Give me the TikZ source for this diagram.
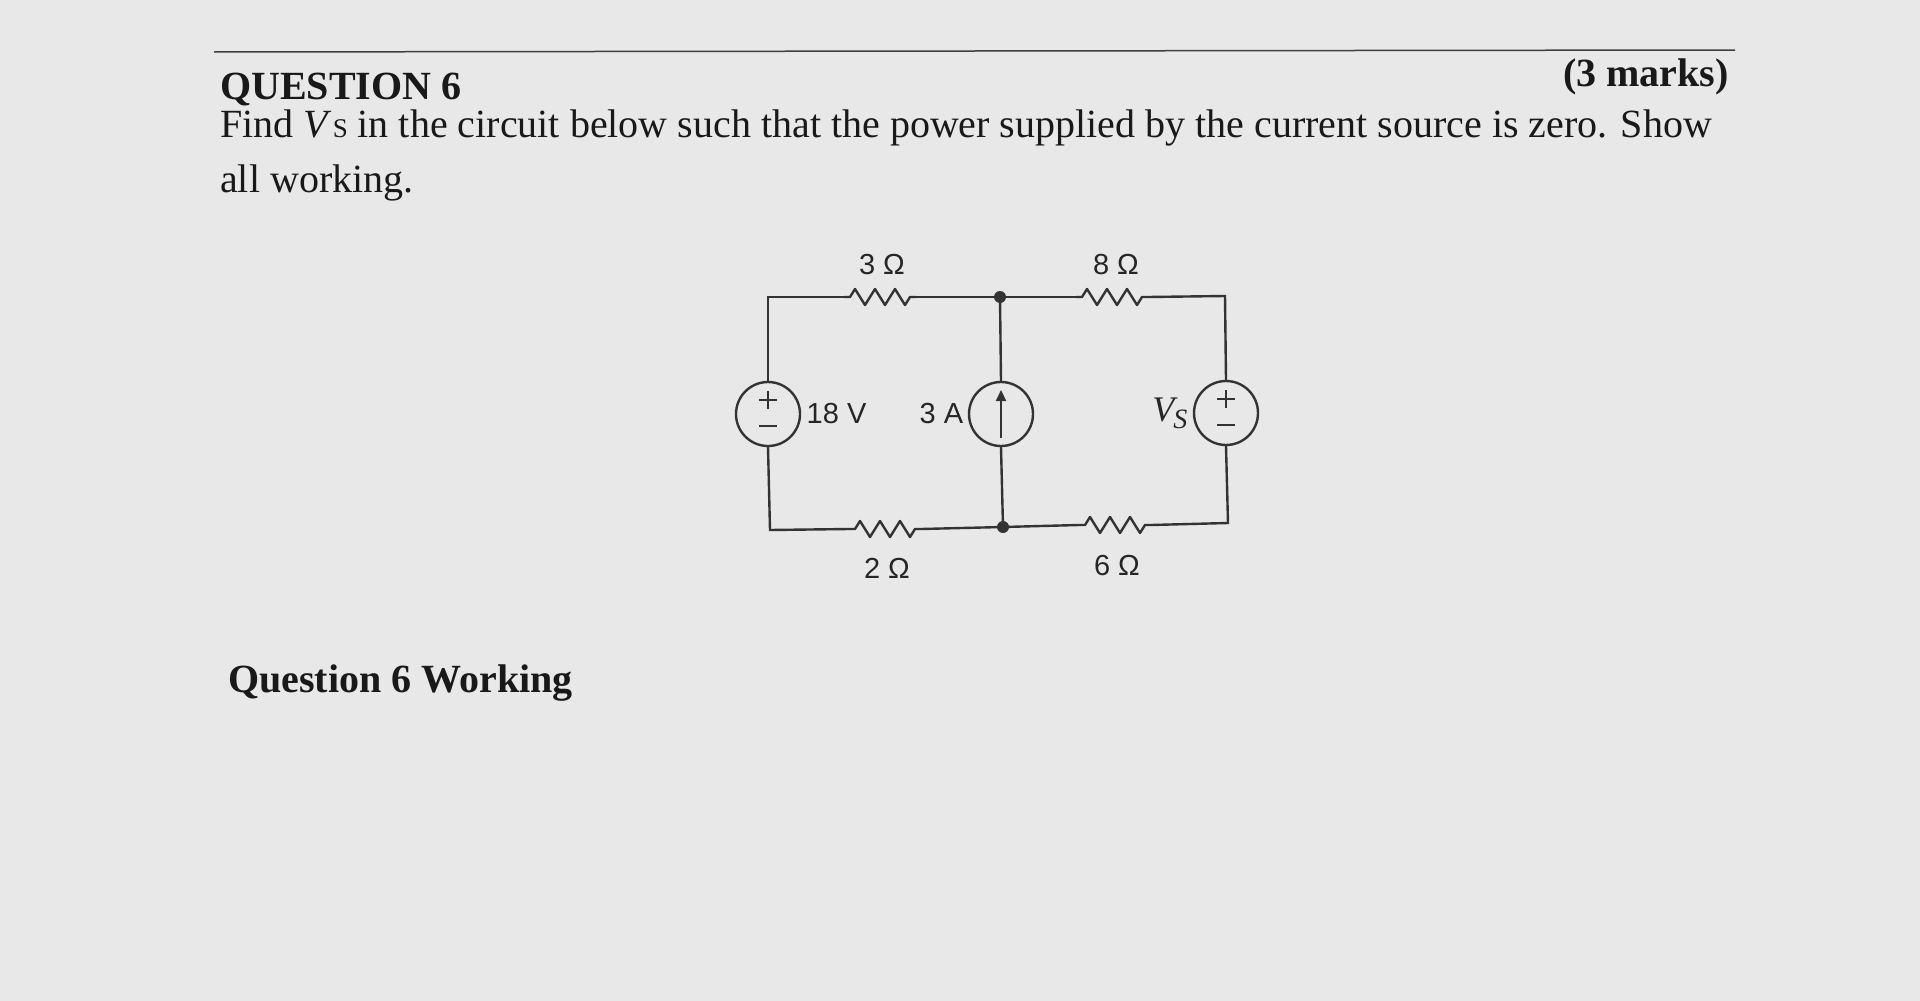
\documentclass[tikz,border=0pt]{standalone}
\usepackage{fontspec}
\setmainfont{Liberation Serif}
\setsansfont{Liberation Sans}
\usetikzlibrary{positioning,arrows.meta,calc}
\tikzset{
  wire/.style={line width=2.4pt,draw=black!80},
  src/.style={circle,draw=black!80,line width=2.4pt,minimum size=64pt,inner sep=0pt,fill=none},
  lbl/.style={font=\sffamily\fontsize{29}{32}\selectfont,text=black!85},
  qtext/.style={font=\fontsize{40}{46}\selectfont,text=black!90,anchor=base west,inner sep=0pt}
}
% zigzag resistor centred at a coordinate
\newcommand{\zigres}[1]{\draw[wire,line join=round] ($(#1)+(-36,0)$) -- ++(6,0) -- ++(5,-8) -- ++(10,16) -- ++(10,-16) -- ++(10,16) -- ++(10,-16) -- ++(10,16) -- ++(5,-8) -- ++(6,0);}
\begin{document}
\begin{tikzpicture}[x=1pt,y=-1pt]

  \fill[black!9] (0,0) rectangle (1920,1001);
  \useasboundingbox (0,0) rectangle (1920,1001);

  % heading
  \draw[line width=1.5pt,black!75] (214,52) -- (1735,50);
  \node[qtext,font=\bfseries\fontsize{40}{46}\selectfont] (qhead) at (220,99) {QUESTION 6};
  \node[qtext,anchor=base east,font=\bfseries\fontsize{40}{46}\selectfont] (marks) at (1729,86) {(3 marks)};
  \node[qtext] (task) at (220,137) {Find \textit{V}\kern1pt{\fontsize{27}{30}\selectfont S} in the circuit below such that the power supplied by the current source is zero. Show};
  \node[qtext] (task2) at (220,192) {all working.};
  \node[qtext,font=\bfseries\fontsize{40}{46}\selectfont] (work) at (228,692) {Question 6 Working};

  % circuit corners
  \coordinate (tl) at (768,297);
  \coordinate (tm) at (1000,297);
  \coordinate (tr) at (1225,296);
  \coordinate (bl) at (770,530);
  \coordinate (bm) at (1003,527);
  \coordinate (br) at (1228,523);
  \coordinate (r3) at (880,297);
  \coordinate (r8) at (1112,297);
  \coordinate (r2) at (885,529);
  \coordinate (r6) at (1115,525);

  \node[src] (v18) at (768,414) {};
  \node[src] (ia) at (1001,414) {};
  \node[src] (vs) at (1226,413) {};

  \draw[wire] (v18.north) -- (tl) -- ($(r3)+(-36,0)$);
  \draw[wire] ($(r3)+(36,0)$) -- (tm) -- ($(r8)+(-36,0)$);
  \draw[wire] ($(r8)+(36,0)$) -- (tr) -- (vs.north);
  \draw[wire] (v18.south) -- (bl) -- ($(r2)+(-36,0)$);
  \draw[wire] ($(r2)+(36,0)$) -- (bm) -- ($(r6)+(-36,0)$);
  \draw[wire] ($(r6)+(36,0)$) -- (br) -- (vs.south);
  \draw[wire] (tm) -- (ia.north);
  \draw[wire] (ia.south) -- (bm);
  \zigres{r3} \zigres{r8} \zigres{r2} \zigres{r6}

  \fill[black!80] (tm) circle (6);
  \fill[black!80] (bm) circle (6);

  % source marks
  \draw[line width=1.6pt,black!80] ($(v18)+(-9,-14)$) -- ++(18,0) ($(v18)+(0,-23)$) -- ++(0,18) ($(v18)+(-9,12)$) -- ++(18,0);
  \draw[line width=1.6pt,black!80] ($(vs)+(-9,-14)$) -- ++(18,0) ($(vs)+(0,-23)$) -- ++(0,18) ($(vs)+(-9,12)$) -- ++(18,0);
  \draw[line width=2.2pt,black!80,-{Triangle[length=11pt,width=10pt]}] ($(ia)+(0,24)$) -- ($(ia)+(0,-24)$);

  % labels
  \node[lbl] (l3) at (882,265) {3 Ω};
  \node[lbl] (l8) at (1116,265) {8 Ω};
  \node[lbl] (l2) at (887,568) {2 Ω};
  \node[lbl] (l6) at (1117,566) {6 Ω};
  \node[lbl,right=2pt of v18] (l18) {18 V};
  \node[lbl,left=1pt of ia] (l3a) {3 A};
  \node[lbl,left=2pt of vs,font=\fontsize{36}{40}\selectfont\itshape] (lvs) {V\kern-1pt\raisebox{-7pt}{\fontsize{28}{30}\selectfont S}};

\end{tikzpicture}
\end{document}
